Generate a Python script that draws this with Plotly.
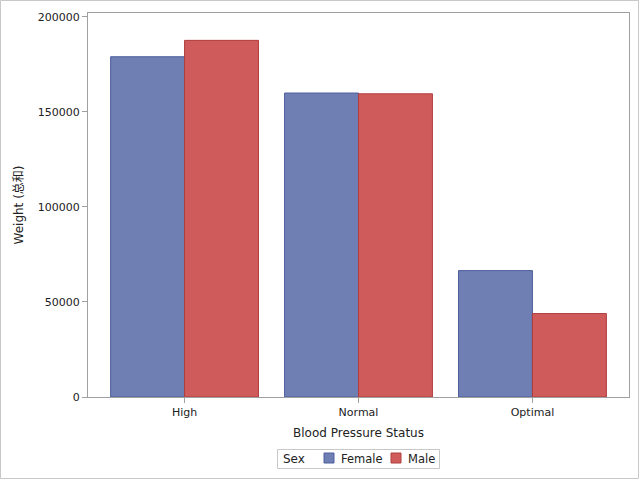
import plotly.graph_objects as go

categories = ["High", "Normal", "Optimal"]
female = [179000, 159900, 66500]
male = [187600, 159500, 43900]
groups = ["Female", "Male"]
colors = ["#6F7EB3", "#D05B5B"]
edges = ["#4F5F9E", "#B03E3E"]

W, H = 640, 480
L, R, T, B = 88, 11, 13, 83
pw, ph = W - L - R, H - T - B


def px(x):
    return (x - L) / pw


def py(y):
    return (T + ph - y) / ph


font = dict(family="DejaVu Sans, Arial, sans-serif", size=11, color="#222")

fig = go.Figure()
for name, vals, c, e in zip(groups, [female, male], colors, edges):
    fig.add_trace(go.Bar(
        x=categories, y=vals, name=name,
        marker=dict(color=c, line=dict(color=e, width=1)),
    ))

# legend drawn by hand to match the compact SAS-style box
shapes = [
    dict(type="rect", xref="paper", yref="paper",
         x0=px(0.5), x1=px(W - 1.5), y0=py(H - 1.5), y1=py(0.5),
         line=dict(color="#C8C8C8", width=1)),
    dict(type="rect", xref="paper", yref="paper",
         x0=px(277.5), x1=px(439.5), y0=py(468.5), y1=py(449.5),
         line=dict(color="#C8C8C8", width=1)),
]
annotations = [
    dict(text="Sex", xref="paper", yref="paper", x=px(281), y=py(459),
         xanchor="left", yanchor="middle", showarrow=False, font=dict(size=12)),
]
for name, c, e, sx in zip(groups, colors, edges, [324, 391]):
    shapes.append(dict(type="rect", xref="paper", yref="paper",
                       x0=px(sx), x1=px(sx + 10), y0=py(463), y1=py(453),
                       fillcolor=c, line=dict(color=e, width=1)))
    annotations.append(dict(text=name, xref="paper", yref="paper",
                            x=px(sx + 15), y=py(459), xanchor="left",
                            yanchor="middle", showarrow=False,
                            font=dict(size=11.5)))

fig.update_layout(
    width=W, height=H,
    margin=dict(l=L, r=R, t=T, b=B),
    barmode="group", bargap=0.15, bargroupgap=0,
    plot_bgcolor="white", paper_bgcolor="white",
    font=font,
    showlegend=False,
    xaxis=dict(
        title=dict(text="Blood Pressure Status", font=dict(size=12), standoff=10),
        range=[-0.555, 2.555],
        showline=True, linecolor="#A0A0A0", mirror=True,
        ticks="outside", ticklen=5, tickcolor="#A0A0A0",
        showgrid=False,
    ),
    yaxis=dict(
        title=dict(text="Weight (总和)", font=dict(size=12,
                   family="DejaVu Sans, Noto Sans CJK SC, sans-serif"), standoff=11),
        range=[0, 202000],
        tickvals=[0, 50000, 100000, 150000, 200000],
        ticktext=["0", "50000", "100000", "150000", "200000"],
        showline=True, linecolor="#A0A0A0", mirror=True,
        ticks="outside", ticklen=5, tickcolor="#A0A0A0",
        showgrid=False, zeroline=False,
    ),
    shapes=shapes,
    annotations=annotations,
)

fig.write_html("out.html", config={"displayModeBar": False},
               post_script="document.body.style.margin='0';")
